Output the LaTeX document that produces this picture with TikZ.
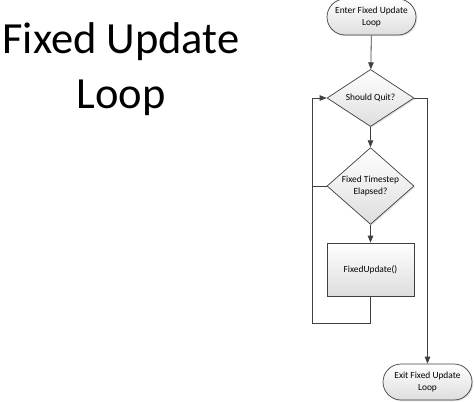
\documentclass[tikz,border=0pt]{standalone}
\usepackage{fontspec}
\setmainfont{Carlito}
\usetikzlibrary{shapes.geometric,shapes.misc,arrows.meta,shadows}
\definecolor{linegray}{HTML}{404040}
\tikzset{
  box/.style = {draw = linegray, line width = 0.7pt, top color = white, bottom color = black!13,
    drop shadow = {shadow xshift = 1.2pt, shadow yshift = -1.2pt, opacity = 0.25},
    font = \fontsize{9.4}{11.5}\selectfont, align = center, inner sep = 0pt},
  terminal/.style = {box, rounded rectangle, minimum width = 89, minimum height = 36},
  decision/.style = {box, diamond, minimum width = 87, minimum height = 53},
  process/.style = {box, rectangle, minimum width = 87, minimum height = 53},
  flow/.style = {draw = linegray, line width = 0.8pt, -{Triangle[length = 7pt, width = 5.5pt]}},
  plain/.style = {draw = linegray, line width = 0.8pt}
}
\begin{document}
\begin{tikzpicture}[x = 1pt, y = -1pt]
\useasboundingbox (0,0) rectangle (474,402);
% title
\node[font = \fontsize{44.5}{55}\selectfont, align = center] (title) at (121,69) {Fixed Update\\Loop};
% chart
\node[terminal] (enter) at (371.5,17) {Enter Fixed Update\\Loop};
\node[decision] (quit) at (370.5,98) {Should Quit?};
\node[decision] (elapsed) at (370.5,186) {Fixed Timestep\\Elapsed?};
\node[process] (update) at (370.5,269.5) {FixedUpdate()};
\node[terminal] (exit) at (427.5,382) {Exit Fixed Update\\Loop};
\coordinate (loopbl) at (312,323);
\draw[flow] (enter) -- (quit);
\draw[flow] (quit) -- (elapsed);
\draw[flow] (elapsed) -- (update);
\draw[flow] (elapsed.west) -| (loopbl |- quit.west) -- (quit.west);
\draw[plain] (update.south) |- (loopbl) -- (loopbl |- elapsed.west);
\draw[flow] (quit.east) -| (exit.north);
\end{tikzpicture}
\end{document}
